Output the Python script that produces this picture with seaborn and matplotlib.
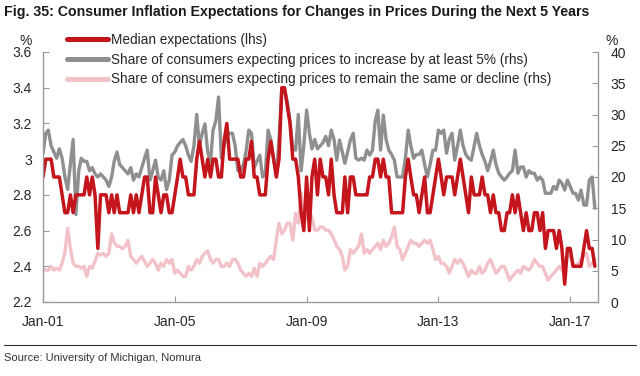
import numpy as np
import pandas as pd
import seaborn as sns
import matplotlib.pyplot as plt
from matplotlib.lines import Line2D

# ==========================================
# Data (monthly, Jan 2001 - Oct 2017)
# ==========================================
median_exp = [
    2.9, 3.0, 3.0, 3.0, 2.9, 2.9, 2.9, 2.8, 2.7, 2.7, 2.8, 2.7,  # 2001
    2.8, 2.8, 2.8, 2.8, 2.9, 2.8, 2.9, 2.8, 2.5, 2.8, 2.8, 2.8,  # 2002
    2.7, 2.8, 2.7, 2.8, 2.7, 2.7, 2.7, 2.7, 2.8, 2.7, 2.8, 2.7,  # 2003
    2.8, 2.9, 2.9, 2.7, 2.7, 2.9, 2.8, 2.7, 2.8, 2.8, 2.7, 2.7,  # 2004
    2.8, 2.9, 3.0, 2.9, 2.9, 2.8, 2.8, 2.8, 3.0, 3.1, 3.0, 2.9,  # 2005
    3.0, 2.9, 3.0, 3.0, 2.9, 2.9, 3.1, 3.2, 3.0, 3.0, 3.0, 3.0,  # 2006
    2.9, 2.9, 3.0, 3.0, 3.1, 2.9, 2.9, 2.8, 2.8, 2.8, 3.0, 3.1,  # 2007
    3.0, 2.9, 3.0, 3.4, 3.4, 3.3, 3.2, 3.0, 3.0, 2.9, 2.7, 2.6,  # 2008
    2.9, 2.6, 2.9, 3.0, 2.8, 3.0, 2.9, 2.9, 2.8, 3.0, 2.8, 2.7,  # 2009
    2.7, 2.7, 2.9, 2.7, 2.9, 2.9, 2.8, 2.8, 2.8, 2.8, 2.8, 2.9,  # 2010
    2.9, 3.0, 3.0, 2.9, 3.0, 2.9, 2.9, 2.7, 2.7, 2.7, 2.7, 2.7,  # 2011
    2.9, 3.0, 2.9, 2.8, 2.8, 2.7, 2.8, 2.9, 2.7, 2.7, 2.8, 2.9,  # 2012
    3.0, 2.9, 2.8, 2.9, 2.9, 2.9, 2.8, 2.9, 3.0, 2.9, 2.8, 2.7,  # 2013
    2.9, 2.8, 2.8, 2.8, 2.9, 2.8, 2.8, 2.7, 2.8, 2.7, 2.7, 2.6,  # 2014
    2.6, 2.7, 2.7, 2.8, 2.7, 2.8, 2.7, 2.6, 2.7, 2.6, 2.6, 2.7,  # 2015
    2.7, 2.6, 2.7, 2.5, 2.6, 2.6, 2.6, 2.5, 2.6, 2.5, 2.3, 2.5,  # 2016
    2.5, 2.4, 2.4, 2.4, 2.4, 2.5, 2.6, 2.5, 2.5, 2.4,            # 2017
]

share_up5 = [
    23.8, 27, 27.5, 25, 24, 23, 24.5, 23, 20, 18, 22, 26,
    14, 21, 23, 22.5, 22.5, 21, 21.5, 20.5, 20, 20.5, 20, 19.5,
    18.5, 20, 22.5, 24, 22, 21.5, 21, 20.5, 21.5, 19.5, 20.5, 20,
    21.5, 23, 24.3, 19.5, 21, 22.7, 20, 19.5, 21, 18, 19.5, 23.5,
    24, 25, 25.5, 26, 25, 23.5, 22.5, 25, 30, 25, 27, 28.5,
    24, 22.5, 27.5, 29, 32.8, 23, 25, 26.5, 27, 27, 25, 21,
    21, 22, 24, 27.5, 27, 21.5, 22.5, 23.5, 20, 20.5, 27.5, 26,
    23, 20, 26, 34, 34, 32, 29, 24.5, 24.3, 30, 21, 25,
    30.7, 27, 24.5, 26, 24.5, 25, 25.5, 26.5, 25, 27.5, 26, 22.7,
    25.9, 24, 22.2, 24, 25.9, 27, 23, 22.7, 23, 22.7, 24.3, 23.5,
    24.3, 29, 30.7, 24.3, 29.9, 26, 24.3, 23.6, 22.7, 20, 20, 20,
    23, 27.5, 25, 23, 23.6, 23.6, 24.3, 22, 20, 22, 24.3, 24.3,
    27.5, 27, 27.5, 23.8, 26, 27, 22.7, 25, 27.5, 25, 23.6, 23,
    22.7, 25, 27, 25, 23.6, 22.5, 21, 22.5, 24.3, 22, 20.6, 20,
    19.5, 20, 20.6, 21, 24.3, 20.6, 21.6, 21.6, 20, 21, 20.6, 20.6,
    19.5, 20, 19.5, 17.4, 17.4, 17.4, 18.5, 18, 19.5, 19, 17.9, 19.5,
    18.5, 17.4, 17.4, 16.3, 17.9, 15.5, 15.5, 19.5, 20, 15,
]

share_same_decline = [
    5.4, 5.1, 5.1, 5.7, 5.1, 5.4, 5.1, 6.2, 8, 11.8, 8.5, 6.2,
    5.7, 5.7, 5.4, 5.7, 4.1, 5.7, 5.4, 6.5, 7.8, 7.5, 7.8, 7.3,
    7.8, 10.9, 9.5, 8.9, 8.9, 8.5, 8.9, 9.9, 7.3, 6.8, 6.2, 6.8,
    7.3, 6.5, 5.7, 6.2, 6.8, 6.2, 5.1, 6.2, 5.7, 6.8, 6.2, 6.8,
    4.6, 5.1, 4.6, 4.1, 4.1, 5.7, 5.1, 5.7, 6.8, 6.2, 7.3, 7.8,
    8.2, 6.8, 6.2, 6.8, 6.8, 5.7, 5.7, 6.2, 5.7, 6.8, 6.8, 6.2,
    5.1, 4.6, 4.1, 4.6, 4.1, 5.4, 4.1, 6.2, 5.7, 6.2, 6.8, 7.3,
    6.8, 10, 12.6, 10.9, 11.5, 12.6, 12.6, 9.9, 14.2, 12.6, 17.5, 12.6,
    13.5, 14.7, 13.5, 11.5, 11.5, 12, 12, 11.5, 11.5, 10.9, 10, 8.9,
    8.4, 7.3, 5.1, 5.7, 8.4, 7.8, 8.4, 8.9, 10.9, 7.8, 8.4, 7.8,
    8.4, 8.9, 9.4, 8.4, 9.9, 8.9, 9.4, 10.4, 12, 8.9, 8.4, 6.8,
    7.8, 8.9, 9.9, 9.4, 9.4, 8.9, 9.4, 9.9, 9.4, 9.9, 8.4, 6.8,
    7.3, 6.2, 6.2, 5.7, 4.6, 5.7, 6.8, 6.2, 6.8, 6.2, 5.1, 4.1,
    5.1, 4.6, 4.6, 5.7, 4.6, 5.1, 6.2, 6.8, 5.7, 4.6, 5.1, 5.7,
    5.7, 4.6, 3.5, 4.1, 4.6, 5.1, 4.6, 5.7, 5.4, 5.1, 5.7, 6.8,
    6.2, 5.7, 5.7, 4.6, 3.5, 4.1, 4.6, 5.1, 5.7, 5.1, 6.8, 7.3,
    7.3, 6.2, 5.7, 6.2, 6.8, 7.3, 7.8, 5.7, 6.2, 6.8,
]

tick_years = [2001, 2005, 2009, 2013, 2017]
tick_labels = ["Jan-01", "Jan-05", "Jan-09", "Jan-13", "Jan-17"]

labels = [
    "Median expectations (lhs)",
    "Share of consumers expecting prices to increase by at least 5% (rhs)",
    "Share of consumers expecting prices to remain the same or decline (rhs)",
]

dates = pd.date_range("2001-01-01", periods=len(median_exp), freq="MS")
df = pd.DataFrame({"date": dates, "median": median_exp,
                   "up5": share_up5, "same": share_same_decline})

# ==========================================
# Plotting
# ==========================================
sns.set_style("white")
plt.rcParams["font.family"] = ["Liberation Sans", "DejaVu Sans"]

RED, GREY, PINK = "#C4141C", "#8F8F8F", "#F2C2C8"
SPINE = "#9A9A9A"
TXT = "#262626"

fig = plt.figure(figsize=(6.4, 3.76), dpi=100)
ax = fig.add_axes([43 / 640, 1 - 302 / 376, (598 - 43) / 640, 250 / 376])
ax2 = ax.twinx()

sns.lineplot(data=df, x="date", y="same", ax=ax2, color=PINK, linewidth=2.4)
sns.lineplot(data=df, x="date", y="up5", ax=ax2, color=GREY, linewidth=2.4)
sns.lineplot(data=df, x="date", y="median", ax=ax, color=RED, linewidth=2.5)

# red series on top
ax.set_zorder(ax2.get_zorder() + 1)
ax.patch.set_visible(False)

ax.set_ylim(2.2, 3.6)
ax.set_yticks(np.arange(2.2, 3.61, 0.2))
ax.set_yticklabels([f"{v:g}" for v in np.round(np.arange(2.2, 3.61, 0.2), 1)])
ax2.set_ylim(0, 40)
ax2.set_yticks(range(0, 41, 5))

ax.set_xlim(pd.Timestamp("2001-01-01"), pd.Timestamp("2017-11-05"))
ax.set_xticks([pd.Timestamp(f"{y}-01-01") for y in tick_years])
ax.set_xticklabels(tick_labels)

for a in (ax, ax2):
    a.set_xlabel("")
    a.set_ylabel("")
    for s in a.spines.values():
        s.set_color(SPINE)
        s.set_linewidth(1.0)
    a.spines["top"].set_visible(False)
ax.spines["right"].set_visible(False)
ax2.spines["left"].set_visible(False)
ax2.spines["bottom"].set_visible(False)

ax.tick_params(axis="both", direction="in", length=4, color=SPINE,
               labelsize=10, labelcolor=TXT, left=True, bottom=True)
ax.tick_params(axis="y", pad=8)
ax.tick_params(axis="x", pad=9)
ax2.tick_params(axis="y", direction="in", length=4, color=SPINE,
                labelsize=10, labelcolor=TXT, right=True, pad=9)

fig.text(26 / 640, 1 - 41 / 376, "%", fontsize=10, color=TXT, ha="center", va="center")
fig.text(612 / 640, 1 - 41 / 376, "%", fontsize=10, color=TXT, ha="center", va="center")

handles = [ax.lines[0], ax2.lines[1], ax2.lines[0]]
fig.legend(handles, labels, loc="upper left",
           bbox_to_anchor=(67 / 640, 1 - 33 / 376), frameon=False,
           fontsize=9.8, handlelength=3.0, handletextpad=0.2,
           labelspacing=0.42, borderpad=0, borderaxespad=0,
           labelcolor=TXT)
for ln in fig.legends[0].get_lines():
    ln.set_linewidth(3.6)

fig.text(4 / 640, 1 - 12 / 376,
         "Fig. 35: Consumer Inflation Expectations for Changes in Prices During the Next 5 Years",
         fontsize=10.2, fontweight="bold", color="#1A1A1A", ha="left", va="center")

fig.add_artist(Line2D([4 / 640, 636 / 640], [1 - 345 / 376] * 2,
                      color="#333333", linewidth=0.8))
fig.text(4 / 640, 1 - 358 / 376, "Source: University of Michigan, Nomura",
         fontsize=8, color="#333333", ha="left", va="center")

fig.savefig("out.png", dpi=100)
